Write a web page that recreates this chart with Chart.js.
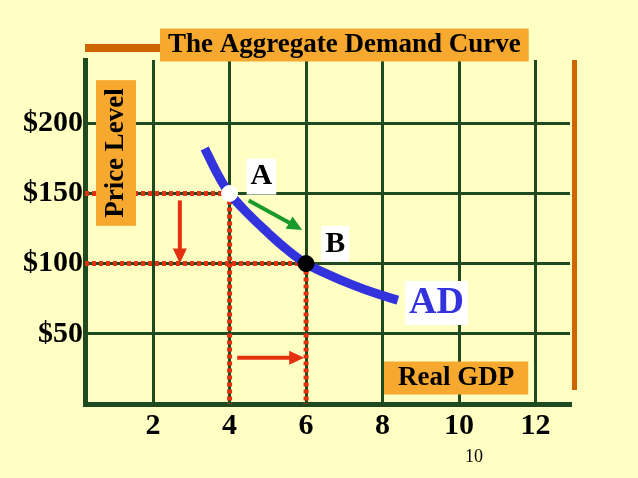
<!DOCTYPE html>
<html><head><meta charset="utf-8">
<script src="https://cdn.jsdelivr.net/npm/chart.js@4"></script>
<style>body{margin:0;background:#FFFFC4}#wrap{width:638px;height:478px}</style>
</head><body><div id="wrap"><canvas id="c"></canvas></div>
<script>
var curveX = [3.35, 3.7, 4, 4.5, 5, 5.5, 6, 6.6, 7.2, 7.8, 8.4];
var curveY = [182, 163, 150, 135, 122, 110, 100, 92, 85, 79, 74];
var pointA = {x: 4, y: 150};
var pointB = {x: 6, y: 100};
var xTicks = [2, 4, 6, 8, 10, 12];
var yTicks = [50, 100, 150, 200];

var serif = "'Liberation Serif', serif";
function xy(xs, ys){ return xs.map(function(x,i){ return {x:x, y:ys[i]}; }); }

function arrow(ctx, x1, y1, x2, y2, col){
  var a = Math.atan2(y2-y1, x2-x1);
  ctx.strokeStyle = col; ctx.fillStyle = col; ctx.lineWidth = 4; ctx.setLineDash([]);
  ctx.beginPath(); ctx.moveTo(x1,y1); ctx.lineTo(x2-8*Math.cos(a), y2-8*Math.sin(a)); ctx.stroke();
  ctx.beginPath(); ctx.moveTo(x2,y2);
  ctx.lineTo(x2-15*Math.cos(a)+7*Math.sin(a), y2-15*Math.sin(a)-7*Math.cos(a));
  ctx.lineTo(x2-15*Math.cos(a)-7*Math.sin(a), y2-15*Math.sin(a)+7*Math.cos(a));
  ctx.fill();
}
function box(ctx, txt, x, y, font, bg, fg, pad){
  pad = pad || 4;
  ctx.font = font;
  var w = ctx.measureText(txt).width;
  var h = parseInt(font.match(/(\d+)px/)[1]);
  if (bg){ ctx.fillStyle = bg; ctx.fillRect(x-pad, y-h*0.5-3, w+2*pad, h+6); }
  ctx.fillStyle = fg; ctx.textBaseline = 'middle'; ctx.textAlign = 'left';
  ctx.fillText(txt, x, y);
}

var deco = {
  id: 'deco',
  beforeDatasetsDraw: function(chart){
    var ctx = chart.ctx, xs = chart.scales.x, ys = chart.scales.y, a = chart.chartArea;
    ctx.save();
    ctx.fillStyle = '#CC6600';
    ctx.fillRect(a.left, a.top-16, 80, 8);
    ctx.fillRect(a.right+2, a.top, 5, 330);
    ctx.strokeStyle = '#E53010'; ctx.lineWidth = 5; ctx.setLineDash([4,3]);
    [pointA, pointB].forEach(function(p){
      ctx.beginPath();
      ctx.moveTo(a.left, ys.getPixelForValue(p.y)); ctx.lineTo(xs.getPixelForValue(p.x), ys.getPixelForValue(p.y));
      ctx.moveTo(xs.getPixelForValue(p.x), ys.getPixelForValue(p.y)); ctx.lineTo(xs.getPixelForValue(p.x), a.bottom);
      ctx.stroke();
    });
    ctx.restore();
  },
  afterDatasetsDraw: function(chart){
    var ctx = chart.ctx, xs = chart.scales.x, ys = chart.scales.y;
    ctx.save();
    arrow(ctx, xs.getPixelForValue(2.7), ys.getPixelForValue(145), xs.getPixelForValue(2.7), ys.getPixelForValue(100), '#E53010');
    arrow(ctx, xs.getPixelForValue(4.2), ys.getPixelForValue(33), xs.getPixelForValue(5.95), ys.getPixelForValue(33), '#E53010');
    arrow(ctx, xs.getPixelForValue(4.5), ys.getPixelForValue(145), xs.getPixelForValue(5.9), ys.getPixelForValue(124), '#1A9A2A');
    var f = 'bold 30px ' + serif;
    box(ctx, 'A', xs.getPixelForValue(4.55), ys.getPixelForValue(162), f, '#FFFFFF', '#000');
    box(ctx, 'B', xs.getPixelForValue(6.5), ys.getPixelForValue(114), f, '#FFFFFF', '#000');
    box(ctx, 'AD', 409, 303, 'bold 38px ' + serif, '#FFFFFF', '#3333DD');
    box(ctx, 'The Aggregate Demand Curve', 168, 45, 'bold 27px ' + serif, '#F7A82E', '#000', 8);
    box(ctx, 'Real GDP', 398, 378, 'bold 27px ' + serif, '#F7A82E', '#000', 14);
    ctx.translate(116, 153); ctx.rotate(-Math.PI/2);
    ctx.font = 'bold 27px ' + serif;
    var w = ctx.measureText('Price Level').width;
    ctx.fillStyle = '#F7A82E'; ctx.fillRect(-w/2-8, -20, w+16, 40);
    ctx.fillStyle = '#000'; ctx.textAlign = 'center'; ctx.textBaseline = 'middle';
    ctx.fillText('Price Level', 0, 0);
    ctx.restore();
    ctx.font = '18px ' + serif; ctx.fillStyle = '#000'; ctx.textAlign = 'center';
    ctx.fillText('10', 474, 462);
  }
};

new Chart(document.getElementById('c'), {
  type: 'scatter',
  data: { datasets: [
    { type: 'line', data: xy(curveX, curveY), borderColor: '#3333DD', borderWidth: 9, pointRadius: 0, tension: 0.4, order: 2 },
    { data: [pointA], pointRadius: 8, backgroundColor: '#FFFFFF', borderColor: '#FFFFFF', order: 1 },
    { data: [pointB], pointRadius: 8, backgroundColor: '#000000', borderColor: '#000000', order: 1 }
  ]},
  options: {
    responsive: true, maintainAspectRatio: false, animation: false,
    layout: { padding: { top: 60, right: 68, bottom: 30, left: 0 } },
    plugins: { legend: { display: false }, tooltip: { enabled: false } },
    scales: {
      x: { type: 'linear', min: 0.22, max: 12.9,
        afterBuildTicks: function(s){ s.ticks = xTicks.map(function(v){ return {value:v}; }); },
        grid: { color: '#1F4A1F', lineWidth: 3, drawTicks: false },
        border: { color: '#1F4A1F', width: 5 },
        ticks: { color: '#000', font: { family: serif, size: 30, weight: 'bold' }, padding: 4 } },
      y: { type: 'linear', min: 0, max: 245,
        afterFit: function(s){ s.width = 85; },
        afterBuildTicks: function(s){ s.ticks = yTicks.map(function(v){ return {value:v}; }).concat([{value:0}]); },
        grid: { color: '#1F4A1F', lineWidth: 3, drawTicks: false },
        border: { color: '#1F4A1F', width: 5 },
        ticks: { color: '#000', font: { family: serif, size: 30, weight: 'bold' }, padding: 2,
          callback: function(v){ return v === 0 ? '' : '$' + v; } } }
    }
  },
  plugins: [deco]
});
</script></body></html>
